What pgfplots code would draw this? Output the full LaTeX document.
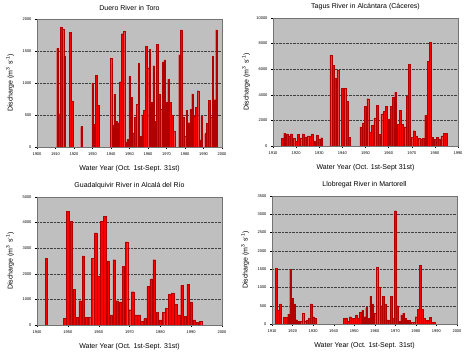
\documentclass[border=0pt]{standalone}
\usepackage{fontspec}
\setmainfont{Liberation Sans}
\usepackage{pgfplots}
\usepackage{pgfplotstable}
\pgfplotsset{compat=1.18}

\pgfplotstableread{
year q
1911 1540
1912 520
1913 1870
1914 1840
1915 1420
1918 1790
1919 720
1924 320
1930 1000
1931 350
1932 1120
1933 650
1940 1390
1941 340
1942 820
1943 400
1944 380
1945 1020
1946 1770
1947 1810
1948 80
1949 120
1950 1100
1951 780
1952 220
1953 460
1954 670
1955 1310
1956 170
1957 500
1958 570
1959 1570
1960 1240
1961 1530
1962 700
1963 1270
1964 400
1965 1600
1966 820
1967 590
1968 1330
1969 1360
1970 700
1971 1060
1972 700
1973 500
1974 250
1977 1440
1978 1830
1979 470
1980 170
1981 570
1982 380
1983 590
1984 830
1985 490
1986 620
1987 880
1988 110
1989 480
1991 210
1992 370
1993 730
1994 460
1995 1420
1996 740
1997 1830
}\duero

\pgfplotstableread{
year q
1914 600
1915 1000
1916 950
1917 800
1918 950
1919 600
1920 350
1921 900
1922 600
1923 950
1924 700
1925 800
1926 800
1927 950
1928 400
1929 850
1930 500
1931 650
1935 7100
1936 6300
1937 5300
1938 5900
1940 4500
1941 4500
1942 3500
1943 700
1948 1500
1949 1800
1950 3100
1951 3700
1952 1100
1953 1600
1954 2200
1955 3200
1956 900
1957 2500
1958 2700
1959 3100
1960 2100
1961 3100
1962 3800
1963 4200
1964 1700
1965 2800
1966 1700
1967 1500
1968 3900
1969 6400
1970 700
1971 1200
1972 800
1973 600
1974 500
1975 600
1976 2400
1977 6600
1978 8100
1979 700
1980 500
1981 700
1982 500
1983 800
1984 1000
1985 1000
}\tagus

\pgfplotstableread{
year q
1943 2600
1949 250
1950 4450
1951 4050
1952 1400
1953 300
1954 950
1955 2700
1956 300
1957 300
1958 2600
1959 3600
1960 1900
1961 4050
1962 4250
1963 2500
1964 400
1965 2550
1966 950
1967 900
1968 2300
1969 3250
1970 600
1971 1300
1972 400
1973 400
1974 150
1975 250
1976 1500
1977 1800
1978 2550
1979 500
1980 200
1981 500
1982 650
1983 1200
1984 1250
1985 800
1986 400
1987 1550
1988 350
1989 1600
1990 900
1991 200
1992 100
1993 150
}\guadal

\pgfplotstableread{
year q
1912 1530
1913 370
1914 550
1916 180
1917 180
1918 270
1919 1500
1920 700
1921 550
1922 120
1923 80
1924 70
1925 300
1926 80
1927 100
1928 150
1929 550
1930 200
1931 150
1945 150
1946 170
1947 70
1948 200
1949 150
1950 150
1951 250
1952 150
1953 320
1954 370
1955 200
1956 450
1957 150
1958 750
1959 550
1960 300
1961 1550
1962 1000
1963 500
1964 750
1965 550
1966 120
1967 100
1968 750
1969 150
1970 3100
1971 500
1972 80
1973 250
1974 300
1975 150
1976 100
1977 100
1978 50
1979 50
1980 200
1981 400
1982 1600
1983 400
1984 150
1985 100
1986 100
1987 180
1988 50
1989 50
}\llob

\pgfplotsset{
  every axis title shift=0pt,
  panel/.style={
    scale only axis, width=185pt, height=128pt,
    ybar, bar width=0.8,
    axis background/.style={fill=black!25},
    axis line style={black!55, line width=0.4pt},
    ymajorgrids,
    major grid style={black!75, densely dotted, line width=0.3pt},
    tick align=outside, xtick pos=left, ytick pos=left,
    major tick length=2pt, tick style={black, line width=0.3pt},
    ymin=0,
    ticklabel style={font=\fontsize{4}{5}\selectfont},
    /pgf/number format/assume math mode=true,
    /pgf/number format/set thousands separator={},
    scaled y ticks=false, scaled x ticks=false,
    xticklabel style={/pgf/number format/1000 sep={}},
    title style={font=\fontsize{7}{8}\selectfont, at={(axis description cs:0.5,1.086)}, anchor=center},
    xlabel style={font=\fontsize{7}{8}\selectfont, at={(axis description cs:0.5,-0.172)}, anchor=center},
    ylabel style={font=\fontsize{7}{8}\selectfont, at={(axis description cs:-0.146,0.5)}, anchor=center},
    ylabel={Discharge (m\textsuperscript{3} s\textsuperscript{-1})},
  },
  bars/.style={fill=red, draw=red!70!black, line width=0.2pt},
}

\begin{document}
\begin{tikzpicture}
\path[use as bounding box] (0,0) rectangle (474pt,352pt);

\begin{axis}[panel, at={(37pt,205pt)}, anchor=south west,
  xmin=1900, xmax=2000, xtick={1900,1910,...,2000},
  ymax=2000, ytick={0,500,...,2000},
  title={Duero River in Toro},
  xlabel={Water Year (Oct. 1st-Sept. 31st)}]
\addplot[bars] table[x=year,y=q] {\duero};
\end{axis}

\begin{axis}[panel, at={(273pt,206pt)}, anchor=south west,
  xmin=1910, xmax=1990, xtick={1910,1920,...,1990},
  ymax=10000, ytick={0,2000,...,10000},
  title={Tagus River in Alcántara (Cáceres)},
  xlabel={Water Year (Oct. 1st-Sept 31st)}]
\addplot[bars] table[x=year,y=q] {\tagus};
\end{axis}

\begin{axis}[panel, at={(37pt,27pt)}, anchor=south west,
  xmin=1940, xmax=2000, xtick={1940,1950,...,2000},
  ymax=5000, ytick={0,1000,...,5000},
  title={Guadalquivir River in Alcalá del Río},
  xlabel={Water Year (Oct. 1st-Sept. 31st)}]
\addplot[bars] table[x=year,y=q] {\guadal};
\end{axis}

\begin{axis}[panel, at={(272pt,28pt)}, anchor=south west,
  xmin=1910, xmax=2000, xtick={1910,1920,...,2000},
  ymax=3500, ytick={0,500,...,3500},
  title={Llobregat River in Martorell},
  xlabel={Water Year (Oct. 1st-Sept. 31st)}]
\addplot[bars] table[x=year,y=q] {\llob};
\end{axis}
\end{tikzpicture}
\end{document}
